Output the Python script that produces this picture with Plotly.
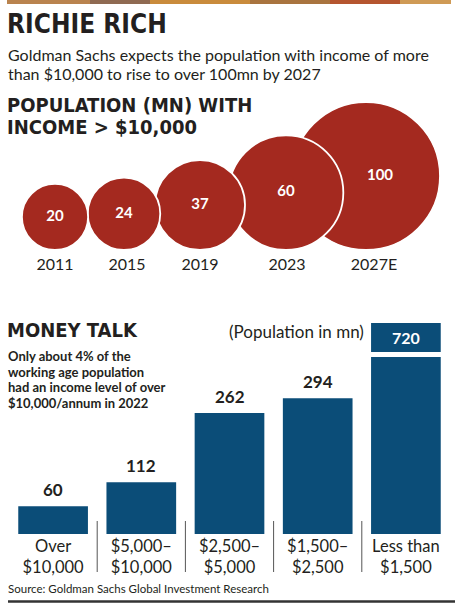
import math
import plotly.graph_objects as go

# ---------------- data ----------------
years = ["2011", "2015", "2019", "2023", "2027E"]
pop_mn = [20, 24, 37, 60, 100]

income_bands = ["Over<br>$10,000", "$5,000–<br>$10,000", "$2,500–<br>$5,000",
                "$1,500–<br>$2,500", "Less than<br>$1,500"]
band_pop_mn = [60, 112, 262, 294, 720]

# ---------------- layout constants ----------------
W, H = 455, 604
CIRCLE_CX = [55, 124, 200, 286, 366]     # horizontal layout of bubbles (px)
LABEL_DX = [0, 0, 0, 0, 14]              # value label nudges
YEAR_DX = [0, 3, 0, 1, 8]
R_PER_SQRT = 7.4                          # bubble radius per sqrt(mn), area-proportional
LOW_MAX = 383                             # lower panel top (broken axis)
HIGH_MIN = 657                            # upper panel bottom

RED = "#a4291f"
BLUE = "#0b4d78"
INK = "#231f20"
COND = "DejaVu Sans Condensed, Liberation Sans Narrow, Arial Narrow, sans-serif"
BODY = "Lato, Noto Sans, sans-serif"


def py(p):
    """pixel-from-top -> paper y"""
    return 1 - p / H


def px(p):
    return p / W


fig = go.Figure()

# ---------------- bubbles ----------------
radii = [R_PER_SQRT * math.sqrt(v) for v in pop_mn]
order = sorted(range(len(pop_mn)), key=lambda i: -pop_mn[i])  # big ones at back
fig.add_trace(go.Scatter(
    x=[CIRCLE_CX[i] for i in order],
    y=[radii[i] for i in order],
    mode="markers",
    marker=dict(size=[2 * radii[i] for i in order], sizemode="diameter",
                color=RED, line=dict(color="white", width=1.8), opacity=1),
    xaxis="x3", yaxis="y3", cliponaxis=False, hoverinfo="skip", showlegend=False,
))
fig.add_trace(go.Scatter(
    x=[CIRCLE_CX[i] + LABEL_DX[i] for i in range(len(pop_mn))],
    y=radii,
    mode="text",
    text=[f"<b>{v}</b>" for v in pop_mn],
    textfont=dict(family=BODY, size=15, color="white"),
    xaxis="x3", yaxis="y3", cliponaxis=False, hoverinfo="skip", showlegend=False,
))
fig.add_trace(go.Scatter(
    x=[CIRCLE_CX[i] + YEAR_DX[i] for i in range(len(years))],
    y=[-16] * len(years),
    mode="text",
    text=years,
    textfont=dict(family=BODY, size=16, color=INK),
    xaxis="x3", yaxis="y3", cliponaxis=False, hoverinfo="skip", showlegend=False,
))

# ---------------- bars (broken axis) ----------------
for xa, ya in (("x", "y"), ("x2", "y2")):
    fig.add_trace(go.Bar(
        x=income_bands, y=band_pop_mn, marker=dict(color=BLUE, line=dict(width=0)),
        xaxis=xa, yaxis=ya, hoverinfo="skip", showlegend=False,
    ))

annotations = []
for cat, v in zip(income_bands, band_pop_mn):
    if v <= LOW_MAX:
        annotations.append(dict(x=cat, y=v, xref="x", yref="y", text=f"<b>{v}</b>",
                                showarrow=False, yanchor="bottom", yshift=4,
                                font=dict(family=BODY, size=17, color=INK)))
    else:
        annotations.append(dict(x=cat, y=v, xref="x2", yref="y2", text=f"<b>{v}</b>",
                                showarrow=False, yanchor="top", yshift=-3,
                                font=dict(family=BODY, size=16, color="white")))


def txt(text, x, y, size, family, color=INK, bold=False, anchor="left"):
    annotations.append(dict(
        x=px(x), y=py(y), xref="paper", yref="paper",
        text=f"<b>{text}</b>" if bold else text,
        showarrow=False, xanchor=anchor, yanchor="middle",
        font=dict(family=family, size=size, color=color),
    ))


txt("RICHIE RICH", 5, 24, 26, COND, bold=True)
txt("Goldman Sachs expects the population with income of more", 6, 54, 16, BODY)
txt("than $10,000 to rise to over 100mn by 2027", 6, 73, 16, BODY)
txt("POPULATION (MN) WITH", 5, 105, 20, COND, bold=True)
txt("INCOME > $10,000", 5, 127, 20, COND, bold=True)
txt("MONEY TALK", 5, 330, 20, COND, bold=True)
for i, line in enumerate(["Only about 4% of the", "working age population",
                          "had an income level of over", "$10,000/annum in 2022"]):
    txt(line, 6, 356 + i * 15.7, 13, BODY, bold=True)
txt("(Population in mn)", 227, 331, 17, BODY)
txt("Source: Goldman Sachs Global Investment Research", 6, 588, 11.5, BODY)

shapes = []
# photo strip at very top
for x0, x1, c in [(7, 90, "#b9834e"), (90, 150, "#8f6a52"), (150, 250, "#c98b3c"),
                  (250, 330, "#a9743f"), (330, 400, "#b5552f"), (400, 451, "#cf9a55")]:
    shapes.append(dict(type="rect", xref="paper", yref="paper", x0=px(x0), x1=px(x1),
                       y0=py(4), y1=py(0), fillcolor=c, line=dict(width=0), layer="below"))
# separators between income bands
for k in range(len(income_bands) - 1):
    shapes.append(dict(type="line", xref="x", yref="paper", x0=k + 0.5, x1=k + 0.5,
                       y0=py(572), y1=py(521), line=dict(color="#555555", width=1)))
# bottom rule
shapes.append(dict(type="line", xref="paper", yref="paper", x0=px(8), x1=1,
                   y0=py(601.5), y1=py(601.5), line=dict(color="#333333", width=2.5)))

hidden = dict(visible=False, fixedrange=True)
fig.update_layout(
    width=W, height=H, autosize=False,
    margin=dict(l=0, r=0, t=0, b=0),
    paper_bgcolor="white", plot_bgcolor="white",
    bargap=0.21,
    xaxis=dict(domain=[px(9), px(450)], range=[-0.5, 4.5], type="category",
               showline=False, showgrid=False, zeroline=False, ticks="",
               tickfont=dict(family=BODY, size=16.5, color=INK), fixedrange=True),
    yaxis=dict(domain=[py(534), py(357)], range=[0, LOW_MAX], **hidden),
    xaxis2=dict(domain=[px(9), px(450)], range=[-0.5, 4.5], type="category",
                anchor="y2", matches="x", **hidden),
    yaxis2=dict(domain=[py(352), py(323)], range=[HIGH_MIN, 720], anchor="x2", **hidden),
    xaxis3=dict(domain=[0, 1], range=[0, W], anchor="y3", **hidden),
    yaxis3=dict(domain=[py(280), py(90)], range=[-30, 160], anchor="x3", **hidden),
    annotations=annotations,
    shapes=shapes,
)

fig.write_html(
    "out.html",
    config={"displayModeBar": False},
    post_script="document.body.style.margin='0';document.body.style.overflow='hidden';",
)
